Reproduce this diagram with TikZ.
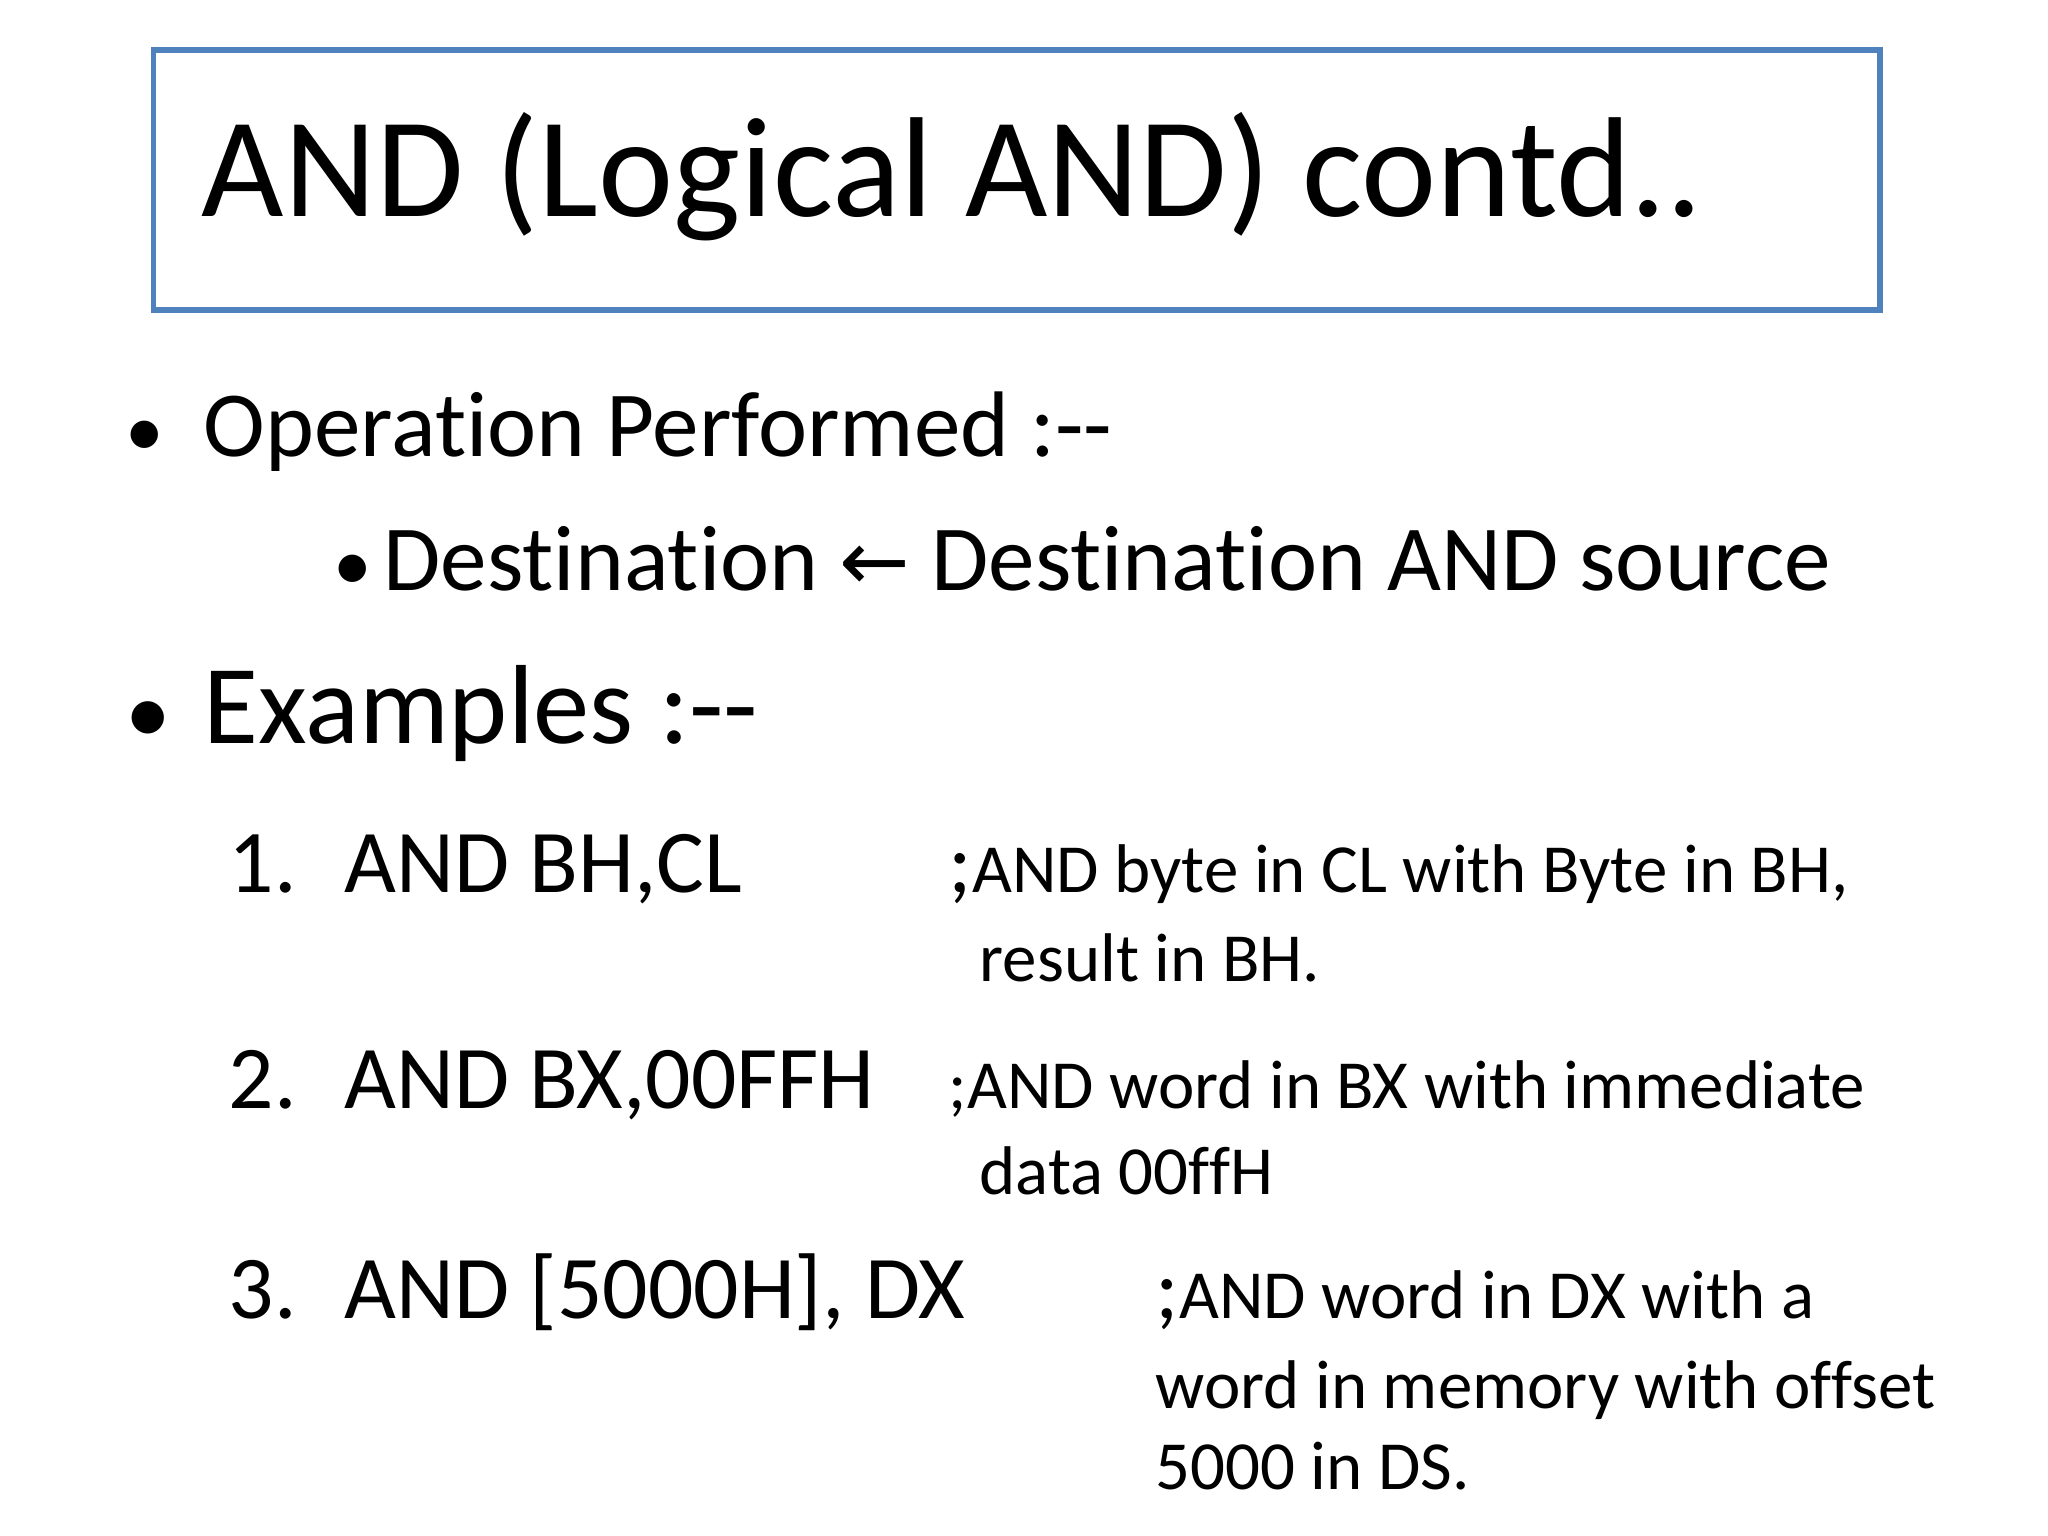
\documentclass[tikz,border=0pt]{standalone}
\usepackage{fontspec}
\setmainfont[Ligatures={NoCommon,NoRequired,TeXOff}]{Carlito}
\newfontfamily\symfont{DejaVu Sans}
\definecolor{boxblue}{HTML}{4F81BD}
\begin{document}
\begin{tikzpicture}[
  txt/.style={anchor=base west,inner sep=0pt},
  ttl/.style={txt,font=\fontsize{40.5}{48}\selectfont},
  lvl/.style={txt,font=\fontsize{26.5}{32}\selectfont},
  bul/.style={txt,font=\fontsize{22}{26}\selectfont},
  exs/.style={txt,font=\fontsize{32}{40}\selectfont},
  itm/.style={txt,font=\fontsize{25.5}{31}\selectfont},
  cmt/.style={txt,font=\fontsize{19.6}{24}\selectfont}]
\useasboundingbox (0,0) rectangle (20.48,15.36);
\draw[boxblue,line width=1.6pt] (1.536,12.26) rectangle (18.80,14.86);
\node[ttl] (title) at (2.01,13.19) {AND (Logical AND) contd..};
\node[bul] (b1) at (1.25,10.79) {•};
\node[lvl] (op) at (2.03,10.79) {Operation Performed :--};
\node[bul] (b2) at (3.33,9.45) {•};
\node[lvl] (dest) at (3.83,9.45) {Destination {\symfont\fontsize{24}{30}\selectfont ←} Destination AND source};
\node[bul,font=\fontsize{26}{30}\selectfont] (b3) at (1.25,7.92) {•};
\node[exs] (ex) at (2.03,7.92) {Examples :--};
\node[itm] (n1) at (2.28,6.43) {1.};
\node[itm] (i1) at (3.44,6.43) {AND BH,CL};
\node[cmt] (c1) at (9.48,6.43) {{\fontsize{25}{30}\selectfont;}AND byte in CL with Byte in BH,};
\node[cmt] (c1b) at (9.79,5.54) {result in BH.};
\node[itm] (n2) at (2.28,4.27) {2.};
\node[itm] (i2) at (3.44,4.27) {AND BX,00FFH};
\node[cmt] (c2) at (9.48,4.27) {;AND word in BX with immediate};
\node[cmt] (c2b) at (9.79,3.41) {data 00ffH};
\node[itm] (n3) at (2.28,2.17) {3.};
\node[itm] (i3) at (3.44,2.17) {AND [5000H], DX};
\node[cmt] (c3) at (11.55,2.17) {{\fontsize{25}{30}\selectfont;}AND word in DX with a};
\node[cmt] (c3b) at (11.55,1.27) {word in memory with offset};
\node[cmt] (c3c) at (11.55,0.46) {5000 in DS.};
\end{tikzpicture}
\end{document}
